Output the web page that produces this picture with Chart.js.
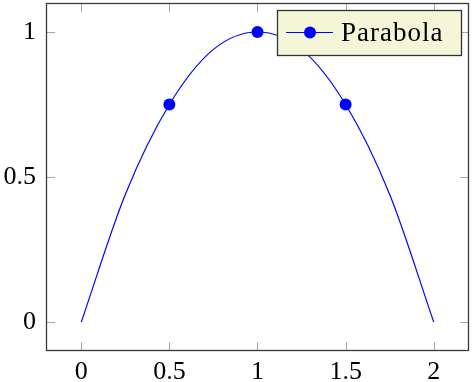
<!DOCTYPE html>
<html>
<head>
<meta charset="utf-8">
<script src="https://cdn.jsdelivr.net/npm/chart.js@4/dist/chart.umd.min.js"></script>
<style>
  html, body { margin: 0; padding: 0; background: #ffffff; }
  #wrap { width: 474px; height: 382px; }
</style>
</head>
<body>
<div id="wrap"><canvas id="c" width="474" height="382"></canvas></div>
<script>
// ---- data ----
const seriesLabel = "Parabola";
const xValues = [0, 0.25, 0.5, 0.75, 1, 1.25, 1.5, 1.75, 2];
const yValues = [0, 0.44, 0.75, 0.94, 1, 0.94, 0.75, 0.44, 0];
const markedX = [0.5, 1, 1.5];
const xTickValues = [0, 0.5, 1, 1.5, 2];
const xTickLabels = ["0", "0.5", "1", "1.5", "2"];
const yTickValues = [0, 0.5, 1];
const yTickLabels = ["0", "0.5", "1"];

const FONT = "'Liberation Serif', 'DejaVu Serif', serif";
const BLUE = "#0000ff";

const points = xValues.map((x, i) => ({ x: x, y: yValues[i] }));
const radii = xValues.map(x => markedX.includes(x) ? 6 : 0);

const boxPlugin = {
  id: 'pgfBox',
  beforeDatasetsDraw(chart) {
    const ctx = chart.ctx;
    const a = chart.chartArea;
    const xs = chart.scales.x, ys = chart.scales.y;
    const tl = 9;
    ctx.save();
    ctx.strokeStyle = '#a8a8a8';
    ctx.lineWidth = 1;
    ctx.beginPath();
    xs.ticks.forEach(t => {
      const px = Math.round(xs.getPixelForValue(t.value)) + 0.5;
      ctx.moveTo(px, a.bottom); ctx.lineTo(px, a.bottom - tl);
      ctx.moveTo(px, a.top); ctx.lineTo(px, a.top + tl);
    });
    ys.ticks.forEach(t => {
      const py = Math.round(ys.getPixelForValue(t.value)) + 0.5;
      ctx.moveTo(a.left, py); ctx.lineTo(a.left + tl, py);
      ctx.moveTo(a.right, py); ctx.lineTo(a.right - tl, py);
    });
    ctx.stroke();
    ctx.restore();
  },
  afterDraw(chart) {
    const ctx = chart.ctx;
    const a = chart.chartArea;
    ctx.save();
    ctx.strokeStyle = '#3a3a3a';
    ctx.lineWidth = 1.3;
    ctx.strokeRect(a.left + 0.5, a.top + 0.5, a.right - a.left - 1, a.bottom - a.top - 1);

    // legend box (pgfplots style, north east)
    const ds = chart.data.datasets[0];
    const lx = 277, ly = 10, lw = 184, lh = 45;
    ctx.fillStyle = '#f5f5d8';
    ctx.fillRect(lx, ly, lw, lh);
    ctx.strokeStyle = '#333333';
    ctx.lineWidth = 1.3;
    ctx.strokeRect(lx + 0.5, ly + 0.5, lw, lh);
    const cy = ly + lh / 2;
    ctx.strokeStyle = ds.borderColor;
    ctx.lineWidth = 1.2;
    ctx.beginPath();
    ctx.moveTo(lx + 9, cy); ctx.lineTo(lx + 56, cy);
    ctx.stroke();
    ctx.fillStyle = ds.backgroundColor;
    ctx.beginPath();
    ctx.arc(lx + 33, cy, 6, 0, Math.PI * 2);
    ctx.fill();
    ctx.fillStyle = '#000000';
    ctx.font = '27px ' + FONT;
    ctx.letterSpacing = '1px';
    ctx.textBaseline = 'middle';
    ctx.textAlign = 'left';
    ctx.fillText(ds.label, lx + 64, cy + 1);
    ctx.restore();
  }
};

new Chart(document.getElementById('c'), {
  type: 'line',
  data: {
    datasets: [{
      label: seriesLabel,
      data: points,
      borderColor: BLUE,
      backgroundColor: BLUE,
      borderWidth: 1.2,
      pointRadius: radii,
      pointHoverRadius: radii,
      pointBackgroundColor: BLUE,
      pointBorderWidth: 0,
      cubicInterpolationMode: 'monotone',
      fill: false
    }]
  },
  options: {
    responsive: false,
    animation: false,
    devicePixelRatio: 1,
    layout: { padding: { top: 3, right: 5, left: 0, bottom: 0 } },
    plugins: { legend: { display: false }, tooltip: { enabled: false } },
    scales: {
      x: {
        type: 'linear',
        min: -0.2, max: 2.2,
        afterBuildTicks: s => { s.ticks = xTickValues.map(v => ({ value: v })); },
        afterFit: s => { s.height = 31; s.paddingLeft = 0; s.paddingRight = 0; },
        grid: { drawOnChartArea: false, drawTicks: false },
        border: { display: false },
        ticks: {
          padding: 6,
          color: '#000',
          maxRotation: 0,
          font: { family: FONT, size: 26 },
          callback: (v) => xTickLabels[xTickValues.indexOf(v)]
        }
      },
      y: {
        type: 'linear',
        min: -0.1, max: 1.1,
        afterBuildTicks: s => { s.ticks = yTickValues.map(v => ({ value: v })); },
        afterFit: s => { s.width = 46; s.paddingTop = 0; s.paddingBottom = 0; },
        grid: { drawOnChartArea: false, drawTicks: false },
        border: { display: false },
        ticks: {
          padding: 10,
          color: '#000',
          font: { family: FONT, size: 26 },
          callback: (v) => yTickLabels[yTickValues.indexOf(v)]
        }
      }
    }
  },
  plugins: [boxPlugin]
});
</script>
</body>
</html>
